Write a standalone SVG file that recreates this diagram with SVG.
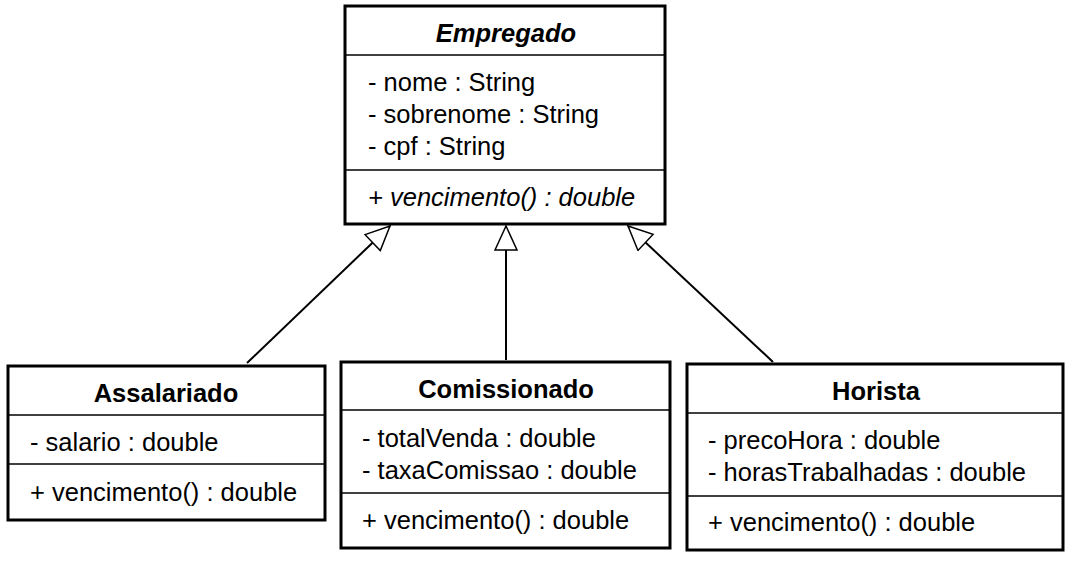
<svg xmlns="http://www.w3.org/2000/svg" width="1073" height="561" viewBox="0 0 1073 561">
<style>
.box{fill:#fff;stroke:#000;stroke-width:3}
.ln{stroke:#000;stroke-width:1.5}
text{font-family:"Liberation Sans",Arial,sans-serif;font-size:25.5px;fill:#000}
.t{font-weight:bold;text-anchor:middle}
.c{stroke:#000;stroke-width:2;fill:none}
</style>
<defs>
<marker id="tri" markerWidth="28" markerHeight="28" refX="26" refY="12" orient="auto" markerUnits="userSpaceOnUse">
<path d="M2,1 L26,12 L2,23 Z" fill="#fff" stroke="#000" stroke-width="1.5"/>
</marker>
</defs>
<rect width="1073" height="561" fill="#fff"/>
<g id="connectors">
<line class="c" x1="247" y1="363" x2="390" y2="226" marker-end="url(#tri)"/>
<line class="c" x1="506" y1="360" x2="506" y2="226" marker-end="url(#tri)"/>
<line class="c" x1="773" y1="362" x2="628" y2="226" marker-end="url(#tri)"/>
</g>
<g id="empregado">
<rect class="box" x="345" y="6" width="320" height="218"/>
<line class="ln" x1="345" y1="55" x2="665" y2="55"/>
<line class="ln" x1="345" y1="170" x2="665" y2="170"/>
<text class="t" x="506" y="42" font-style="italic">Empregado</text>
<text x="368" y="91">- nome : String</text>
<text x="368" y="123">- sobrenome : String</text>
<text x="368" y="155">- cpf : String</text>
<text x="368" y="206" font-style="italic">+ vencimento() : double</text>
</g>
<g id="assalariado">
<rect class="box" x="8" y="366" width="317" height="154"/>
<line class="ln" x1="8" y1="415" x2="325" y2="415"/>
<line class="ln" x1="8" y1="464" x2="325" y2="464"/>
<text class="t" x="166" y="402">Assalariado</text>
<text x="30" y="451">- salario : double</text>
<text x="30" y="501">+ vencimento() : double</text>
</g>
<g id="comissionado">
<rect class="box" x="341" y="362" width="329" height="186"/>
<line class="ln" x1="341" y1="410" x2="670" y2="410"/>
<line class="ln" x1="341" y1="493" x2="670" y2="493"/>
<text class="t" x="506" y="398">Comissionado</text>
<text x="362" y="447">- totalVenda : double</text>
<text x="362" y="479">- taxaComissao : double</text>
<text x="362" y="529">+ vencimento() : double</text>
</g>
<g id="horista">
<rect class="box" x="687" y="364" width="376" height="186"/>
<line class="ln" x1="687" y1="413" x2="1063" y2="413"/>
<line class="ln" x1="687" y1="496" x2="1063" y2="496"/>
<text class="t" x="876" y="400">Horista</text>
<text x="708" y="449">- precoHora : double</text>
<text x="708" y="481">- horasTrabalhadas : double</text>
<text x="708" y="531">+ vencimento() : double</text>
</g>
</svg>
